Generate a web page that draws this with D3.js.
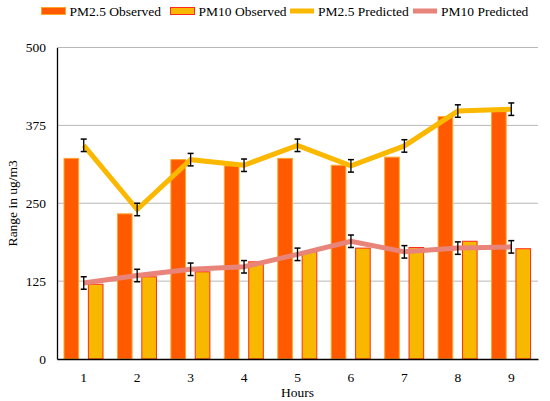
<!DOCTYPE html>
<html>
<head>
<meta charset="utf-8">
<script src="https://cdn.jsdelivr.net/npm/d3@7"></script>
<style>
  body { margin: 0; background: #fff; }
  svg text { font-family: "Liberation Serif", "Times New Roman", serif; }
</style>
</head>
<body>
<div id="chart"></div>
<script>
// data
var hours = ["1", "2", "3", "4", "5", "6", "7", "8", "9"];
var pm25Observed = [322, 233, 320, 310, 322, 311, 324, 389, 397];
var pm10Observed = [120, 132, 140, 156, 172, 178, 179, 189, 177];
var pm25Predicted = [343, 240, 320, 311, 343, 310, 342, 398, 401];
var pm10Predicted = [122, 134, 144, 148, 168, 189, 172, 178, 180];
var errorSize = 10;
var yTicks = [0, 125, 250, 375, 500];

var width = 550, height = 401;
var margin = {top: 47.5, right: 12, bottom: 42, left: 57};
var serif = "Liberation Serif";

var svg = d3.select("#chart")
    .append("svg")
    .attr("width", width)
    .attr("height", height)
    .attr("font-family", serif);

var x0 = d3.scaleBand()
    .domain(hours)
    .range([margin.left, width - margin.right]);

var x1 = d3.scaleBand()
    .domain(["pm25", "pm10"])
    .range([7, 46])
    .paddingInner(0.4);

var y = d3.scaleLinear()
    .domain([0, 500])
    .range([height - margin.bottom, margin.top]);

// gridlines
svg.append("g")
    .selectAll("line")
    .data(yTicks.slice(1))
    .join("line")
    .attr("x1", margin.left)
    .attr("x2", width - margin.right)
    .attr("y1", function (d) { return y(d); })
    .attr("y2", function (d) { return y(d); })
    .attr("stroke", "#b8b8b8")
    .attr("stroke-width", 1);

// y axis
var yAxis = svg.append("g")
    .attr("transform", `translate(${margin.left},0)`)
    .call(d3.axisLeft(y).tickValues(yTicks).tickSize(0).tickPadding(11))
    .attr("font-family", serif)
    .attr("font-size", 13.5);
yAxis.select(".domain").attr("stroke", "#000").attr("stroke-width", 1.3);
yAxis.selectAll("text").attr("fill", "#000");

// bars
var groups = svg.append("g")
    .selectAll("g")
    .data(hours)
    .join("g")
    .attr("transform", function (d) { return `translate(${x0(d)},0)`; });

groups.append("rect")
    .attr("x", x1("pm25"))
    .attr("width", x1.bandwidth())
    .attr("y", function (d, i) { return y(pm25Observed[i]); })
    .attr("height", function (d, i) { return y(0) - y(pm25Observed[i]); })
    .attr("fill", "#ff5a00")
    .attr("stroke", "#ffa62a")
    .attr("stroke-width", 1);

groups.append("rect")
    .attr("x", x1("pm10"))
    .attr("width", x1.bandwidth())
    .attr("y", function (d, i) { return y(pm10Observed[i]); })
    .attr("height", function (d, i) { return y(0) - y(pm10Observed[i]); })
    .attr("fill", "#f9b800")
    .attr("stroke", "#ff2a1a")
    .attr("stroke-width", 1);

// x axis
var xAxis = svg.append("g")
    .attr("transform", `translate(0,${y(0)})`)
    .call(d3.axisBottom(x0).tickSize(0).tickPadding(13))
    .attr("font-family", serif)
    .attr("font-size", 13.5);
xAxis.select(".domain").attr("stroke", "#000").attr("stroke-width", 1.3);
xAxis.selectAll("text").attr("fill", "#000");

// predicted lines
var line = d3.line()
    .x(function (d, i) { return x0(hours[i]) + x0.bandwidth() / 2; })
    .y(function (d) { return y(d); });

svg.append("path")
    .datum(pm25Predicted)
    .attr("fill", "none")
    .attr("stroke", "#fbb800")
    .attr("stroke-width", 5)
    .attr("d", line);

svg.append("path")
    .datum(pm10Predicted)
    .attr("fill", "none")
    .attr("stroke", "#e8847a")
    .attr("stroke-width", 5)
    .attr("d", line);

// error bars
function errorBars(values) {
    var g = svg.append("g")
        .selectAll("g")
        .data(values)
        .join("g")
        .attr("transform", function (d, i) {
            return `translate(${x0(hours[i]) + x0.bandwidth() / 2},0)`;
        });
    g.append("line")
        .attr("x1", 0).attr("x2", 0)
        .attr("y1", function (d) { return y(d - errorSize); })
        .attr("y2", function (d) { return y(d + errorSize); })
        .attr("stroke", "#000").attr("stroke-width", 1.3);
    [-errorSize, errorSize].forEach(function (e) {
        g.append("line")
            .attr("x1", -3).attr("x2", 3)
            .attr("y1", function (d) { return y(d + e); })
            .attr("y2", function (d) { return y(d + e); })
            .attr("stroke", "#000").attr("stroke-width", 1.5);
    });
}
errorBars(pm25Predicted);
errorBars(pm10Predicted);

// axis titles
svg.append("text")
    .attr("x", x0.range()[0] + (x0.range()[1] - x0.range()[0]) / 2)
    .attr("y", 397)
    .attr("text-anchor", "middle")
    .attr("font-size", 13.5)
    .text("Hours");

svg.append("text")
    .attr("transform", `translate(17,${(y(0) + y(500)) / 2}) rotate(-90)`)
    .attr("text-anchor", "middle")
    .attr("font-size", 13.5)
    .text("Range in ug/m3");

// legend
var legend = [
    {label: "PM2.5 Observed", x: 41.5, type: "bar", fill: "#ff5a00", stroke: "#ffa62a"},
    {label: "PM10 Observed", x: 170.5, type: "bar", fill: "#f9b800", stroke: "#ff2a1a"},
    {label: "PM2.5 Predicted", x: 290, type: "line", fill: "#fbb800"},
    {label: "PM10 Predicted", x: 413, type: "line", fill: "#e8847a"}
];
var lg = svg.append("g")
    .selectAll("g")
    .data(legend)
    .join("g")
    .attr("transform", function (d) { return `translate(${d.x},11)`; });
lg.append("rect")
    .attr("x", 0)
    .attr("y", function (d) { return d.type === "bar" ? -3.5 : -2.5; })
    .attr("width", 24)
    .attr("height", function (d) { return d.type === "bar" ? 7 : 5; })
    .attr("fill", function (d) { return d.fill; })
    .attr("stroke", function (d) { return d.stroke || "none"; })
    .attr("stroke-width", 1);
lg.append("text")
    .attr("x", 28)
    .attr("dy", "0.35em")
    .attr("font-size", 13.5)
    .text(function (d) { return d.label; });
</script>
</body>
</html>
